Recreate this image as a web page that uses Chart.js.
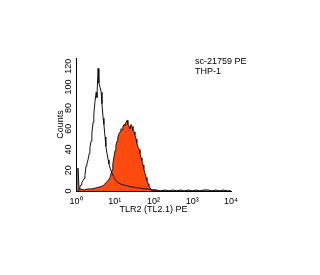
<!DOCTYPE html>
<html>
<head>
<meta charset="utf-8">
<script src="https://cdn.jsdelivr.net/npm/chart.js@4.4.0/dist/chart.umd.min.js"></script>
<style>
  body { margin: 0; background: #fff; }
  #grafica { display: block; }
</style>
</head>
<body>
<canvas id="grafica" width="320" height="275"></canvas>
<script>
// posiciones en decadas (log10 de la fluorescencia)
const xTicks = [0, 1, 2, 3, 4];
const xLabels = ['10\u2070', '10\u00B9', '10\u00B2', '10\u00B3', '10\u2074'];
const yTicks = [0, 20, 40, 60, 80, 100, 120];

// control (histograma sin relleno)
const controlPos = [0.03, 0.05, 0.08, 0.10, 0.13, 0.15, 0.18, 0.21, 0.23, 0.26, 0.28, 0.31, 0.34, 0.36, 0.39, 0.41, 0.44, 0.46, 0.49, 0.52,
  0.54, 0.57, 0.59, 0.62, 0.65, 0.67, 0.70, 0.72, 0.75, 0.77, 0.80, 0.83, 0.85, 0.88, 0.93, 0.98, 1.03, 1.08, 1.14, 1.19,
  1.24, 1.29, 1.34, 1.39, 1.47, 1.55, 1.65, 1.75, 1.86, 1.96, 2.06, 2.17, 2.30, 2.40, 2.50, 2.60, 2.70, 2.80, 2.90, 3.00,
  3.10, 3.20, 3.30, 3.40, 3.50, 3.60, 3.70, 3.80, 3.90, 4.00];
const controlCounts = [0, 22, 2, 4, 6, 8, 10, 12, 15, 24, 26, 30, 36, 42, 48, 55, 66, 74, 86, 95,
  90, 118, 104, 100, 95, 84, 70, 64, 52, 43, 36, 30, 26, 22, 17, 13, 10, 8, 7, 6,
  6, 5, 5, 4, 4, 3, 3, 2, 2, 1, 1, 0, 1, 0, 1, 0, 1, 0, 1, 0,
  1, 0, 1, 1, 0, 1, 0, 1, 0, 0];

// TLR2 (histograma relleno)
const tlrPos = [0.05, 0.10, 0.21, 0.31, 0.41, 0.52, 0.62, 0.70, 0.77, 0.83, 0.88, 0.93, 0.95, 0.98, 1.01, 1.03, 1.06, 1.08, 1.11, 1.14,
  1.16, 1.19, 1.21, 1.24, 1.26, 1.29, 1.32, 1.34, 1.37, 1.39, 1.42, 1.45, 1.47, 1.50, 1.52, 1.55, 1.57, 1.60, 1.63, 1.65,
  1.68, 1.70, 1.73, 1.75, 1.78, 1.81, 1.83, 1.86, 1.88, 1.91, 1.96, 2.04, 2.17, 4.00];
const tlrCounts = [1, 2, 1, 2, 2, 3, 4, 5, 8, 10, 13, 20, 26, 33, 39, 44, 48, 52, 55, 57,
  60, 59, 62, 64, 63, 66, 68, 64, 62, 60, 64, 62, 58, 57, 54, 50, 46, 42, 40, 36,
  32, 29, 25, 21, 17, 13, 10, 7, 5, 3, 1, 1, 0, 0];

function puntos(xs, ys) {
    let res = [];
    for (let i = 0; i < xs.length; i++) {
        res.push({ x: xs[i], y: ys[i] });
    }
    return res;
}

const fuente = "'Liberation Sans Narrow', 'Liberation Sans', sans-serif";

const textos = {
    id: 'textos',
    afterDraw(chart) {
        const ctx = chart.ctx;
        ctx.save();
        ctx.fillStyle = '#000';
        ctx.font = "9px " + fuente;
        ctx.textAlign = 'left';
        ctx.textBaseline = 'middle';
        ctx.fillText('sc-21759 PE', 195, 62);
        ctx.fillText('THP-1', 195, 72);
        ctx.restore();
    }
};

const miGrafica = new Chart(document.getElementById('grafica').getContext('2d'), {
    type: 'line',
    data: {
        datasets: [{
            label: 'control',
            data: puntos(controlPos, controlCounts),
            borderColor: '#111',
            borderWidth: 1,
            pointRadius: 0,
            tension: 0,
            fill: false,
            order: 0
        },
        {
            label: 'TLR2',
            data: puntos(tlrPos, tlrCounts),
            borderColor: '#2a1208',
            backgroundColor: '#ff4a0f',
            borderWidth: 1,
            pointRadius: 0,
            tension: 0,
            fill: 'origin',
            order: 1
        }]
    },
    options: {
        responsive: false,
        animation: false,
        layout: { padding: { left: 0, right: 89, top: 58, bottom: 0 } },
        plugins: { legend: { display: false }, tooltip: { enabled: false } },
        scales: {
            x: {
                type: 'linear',
                min: 0,
                max: 4,
                afterBuildTicks: (s) => { s.ticks = xTicks.map(v => ({ value: v })); },
                afterFit: (s) => { s.height = 84; },
                grid: { display: true, drawOnChartArea: false, drawTicks: false },
                border: { display: true, color: '#000', width: 1 },
                ticks: {
                    padding: 5,
                    color: '#000',
                    font: { family: fuente, size: 9 },
                    maxRotation: 0,
                    callback: (v) => xLabels[xTicks.indexOf(v)]
                },
                title: {
                    display: true,
                    text: 'TLR2 (TL2.1) PE',
                    color: '#000',
                    font: { family: fuente, size: 9 },
                    padding: { top: 0, bottom: 60 }
                }
            },
            y: {
                min: 0,
                max: 128,
                afterBuildTicks: (s) => { s.ticks = yTicks.map(v => ({ value: v })); },
                afterFit: (s) => { s.width = 76; },
                grid: { display: true, drawOnChartArea: false, drawTicks: false },
                border: { display: true, color: '#000', width: 1 },
                ticks: {
                    padding: 0,
                    color: '#000',
                    minRotation: 90,
                    maxRotation: 90,
                    crossAlign: 'center',
                    font: { family: fuente, size: 9 }
                },
                title: {
                    display: true,
                    text: 'Counts',
                    color: '#000',
                    font: { family: fuente, size: 9 },
                    padding: { top: 55, bottom: 0 }
                }
            }
        }
    },
    plugins: [textos]
});
</script>
</body>
</html>
